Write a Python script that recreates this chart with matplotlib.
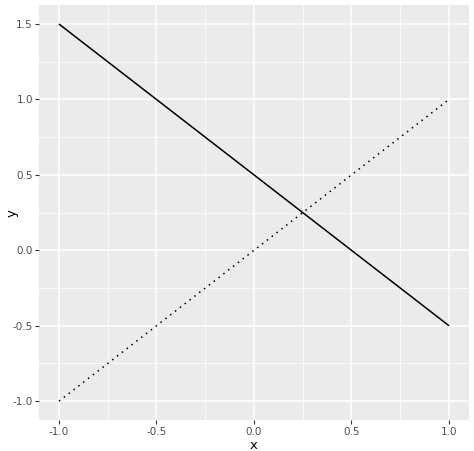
import matplotlib
matplotlib.use("Agg")
import matplotlib.pyplot as plt
from matplotlib.ticker import FixedLocator

x_solid = [-1.0, 1.0]
y_solid = [1.5, -0.5]
x_dotted = [-1.0, 1.0]
y_dotted = [-1.0, 1.0]
x_ticks = [-1.0, -0.5, 0.0, 0.5, 1.0]
y_ticks = [-1.0, -0.5, 0.0, 0.5, 1.0, 1.5]
x_tick_labels = ["-1.0", "-0.5", "0.0", "0.5", "1.0"]
y_tick_labels = ["-1.0", "-0.5", "0.0", "0.5", "1.0", "1.5"]

fig = plt.figure(figsize=(4.74, 4.51), dpi=100)
ax = fig.add_axes([0.0833, 0.0687, 0.9051, 0.9198])
ax.set_facecolor("#EBEBEB")
for s in ax.spines.values():
    s.set_visible(False)

ax.set_xlim(-1.1, 1.1)
ax.set_ylim(-1.125, 1.625)
ax.xaxis.set_major_locator(FixedLocator(x_ticks))
ax.yaxis.set_major_locator(FixedLocator(y_ticks))
ax.xaxis.set_minor_locator(FixedLocator([-0.75, -0.25, 0.25, 0.75]))
ax.yaxis.set_minor_locator(FixedLocator([-0.75, -0.25, 0.25, 0.75, 1.25]))
ax.set_xticklabels(x_tick_labels)
ax.set_yticklabels(y_tick_labels)

ax.grid(which="major", color="white", linewidth=1.1)
ax.grid(which="minor", color="white", linewidth=0.55)
ax.set_axisbelow(True)
ax.tick_params(which="major", length=2.75, width=0.8, color="#333333",
               labelsize=7.5, labelcolor="#4D4D4D", pad=2)
ax.tick_params(which="minor", length=0)

ax.plot(x_solid, y_solid, color="black", linewidth=1.1, solid_capstyle="butt")
ax.plot(x_dotted, y_dotted, color="black", linewidth=1.1, linestyle=(0, (1, 3)))

ax.set_xlabel("x", fontsize=9.5, labelpad=2)
ax.set_ylabel("y", fontsize=9.5, rotation=90, va="center", ha="center")
ax.yaxis.set_label_coords(-0.064, 0.5)

fig.savefig("out.png", dpi=100)
